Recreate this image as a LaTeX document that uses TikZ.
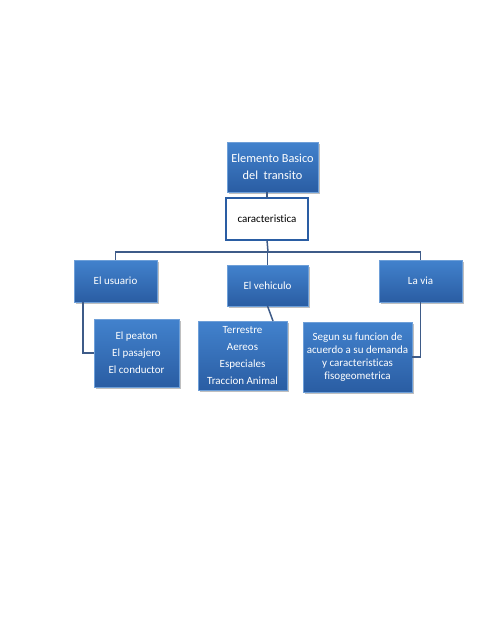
\documentclass[tikz,border=0pt]{standalone}
\usepackage{fontspec}
\setmainfont{Carlito}[Ligatures=NoCommon]
\usetikzlibrary{shadows}
\definecolor{boxtop}{HTML}{4282CD}
\definecolor{boxbot}{HTML}{2A5DA3}
\definecolor{boxline}{HTML}{6E9FD8}
\definecolor{linkcol}{HTML}{3E5B88}
\tikzset{
  bluebox/.style={draw=boxline, line width=0.8pt, top color=boxtop, bottom color=boxbot,
    text=white, align=center, inner sep=0pt, outer sep=0pt,
    font=\fontsize{11}{17}\selectfont,
    drop shadow={shadow xshift=1.5pt, shadow yshift=-1.8pt, opacity=0.5}},
  whitebox/.style={draw=boxbot, line width=1.5pt, fill=white, align=center,
    inner sep=0pt, outer sep=0pt, font=\fontsize{11}{17}\selectfont},
  link/.style={draw=linkcol, line width=1.5pt}
}
\begin{document}
\begin{tikzpicture}[x=1pt, y=-1pt]
\useasboundingbox (0,0) rectangle (495,640);
\node[bluebox, minimum width=91pt, minimum height=50pt, font=\fontsize{12.3}{17.5}\selectfont] (elemento) at (272.5,167) {Elemento Basico\\del\ \ transito};
\node[whitebox, minimum width=82pt, minimum height=42pt] (carac) at (267,219) {caracteristica};
\node[bluebox, minimum width=83pt, minimum height=42pt] (usuario) at (115.5,281) {El usuario};
\node[bluebox, minimum width=81pt, minimum height=41pt] (vehiculo) at (267.5,285.5) {El vehiculo};
\node[bluebox, minimum width=83pt, minimum height=42pt] (via) at (420.5,281) {La via};
\node[bluebox, minimum width=85pt, minimum height=68pt] (peaton) at (136.5,353) {El peaton\\El pasajero\\El conductor};
\node[bluebox, minimum width=89pt, minimum height=69pt] (terrestre) at (242.5,355.5) {Terrestre\\Aereos\\Especiales\\Traccion Animal};
\node[bluebox, minimum width=109pt, minimum height=70pt, font=\fontsize{11}{13}\selectfont] (segun) at (357.5,357) {Segun su funcion de\\acuerdo a su demanda\\y caracteristicas\\fisogeometrica};
\coordinate (bus) at (268,252);
\draw[link] (carac.north) -- (carac.north |- elemento.south);
\draw[link] (carac.south) -- (bus);
\draw[link] (usuario.north) |- (bus) -| (via.north);
\draw[link] (vehiculo.north) -- (vehiculo.north |- bus);
\draw[link] ([xshift=-32.5pt]usuario.south) |- (peaton.west);
\draw[link] (vehiculo.south) -- ([xshift=30.5pt]terrestre.north);
\draw[link] (via.south) |- (segun.east);
\end{tikzpicture}
\end{document}
